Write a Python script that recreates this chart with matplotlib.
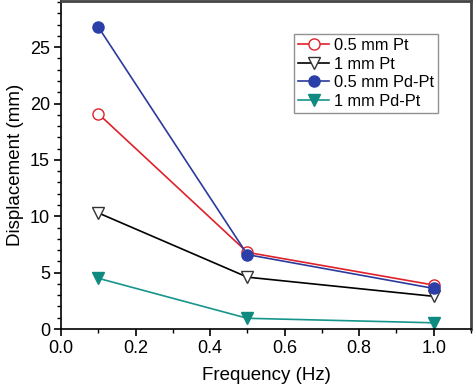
import matplotlib.pyplot as plt
from matplotlib.ticker import MultipleLocator

plt.rcParams['font.family'] = ['Liberation Sans', 'DejaVu Sans']

freq = [0.1, 0.5, 1.0]
pt_05 = [19.1, 6.8, 3.9]
pt_1 = [10.3, 4.6, 2.9]
pdpt_05 = [26.8, 6.6, 3.6]
pdpt_1 = [4.5, 0.95, 0.55]

fig = plt.figure(figsize=(4.74, 3.89), dpi=100)
ax = fig.add_axes([61 / 474, 60 / 389, 410 / 474, 328 / 389])

ax.plot(freq, pt_05, color='#e0212b', marker='o', mfc='white', mec='#e0212b',
        ms=8, lw=1.2, label='0.5 mm Pt')
ax.plot(freq, pt_1, color='black', marker='v', mfc='white', mec='#333333',
        ms=8, lw=1.2, label='1 mm Pt')
ax.plot(freq, pdpt_05, color='#2b3a9c', marker='o', mfc='#2b3fa8', mec='#2b3fa8',
        ms=8, lw=1.2, label='0.5 mm Pd-Pt')
ax.plot(freq, pdpt_1, color='#16958c', marker='v', mfc='#0f8a80', mec='#0f8a80',
        ms=8, lw=1.2, label='1 mm Pd-Pt')

ax.set_xlim(0, 1.1)
ax.set_ylim(0, 29.1)
ax.xaxis.set_major_locator(MultipleLocator(0.2))
ax.xaxis.set_minor_locator(MultipleLocator(0.1))
ax.yaxis.set_major_locator(MultipleLocator(5))
ax.yaxis.set_minor_locator(MultipleLocator(1))
ax.xaxis.set_major_formatter(plt.FuncFormatter(lambda v, p: f'{v:.1f}'))

ax.tick_params(axis='both', which='major', direction='out', length=5, width=1.2,
               labelsize=13, pad=3)
ax.tick_params(axis='both', which='minor', direction='out', length=3, width=1.0)
ax.tick_params(top=False, right=False)

for side in ['left', 'bottom']:
    ax.spines[side].set_linewidth(1.2)
for side in ['top', 'right']:
    ax.spines[side].set_linewidth(2.0)
    ax.spines[side].set_color('#444444')

ax.set_xlabel('Frequency (Hz)', fontsize=13.5, labelpad=7)
ax.set_ylabel('Displacement (mm)', fontsize=13.5, labelpad=4)

leg = ax.legend(loc='upper right', bbox_to_anchor=(0.92, 0.90), fontsize=11.8,
                frameon=True, fancybox=False, edgecolor='#777777',
                handlelength=1.9, handletextpad=0.3, borderpad=0.25,
                labelspacing=0.22, borderaxespad=0)
leg.get_frame().set_linewidth(1.0)

fig.savefig('out.png', dpi=100)
